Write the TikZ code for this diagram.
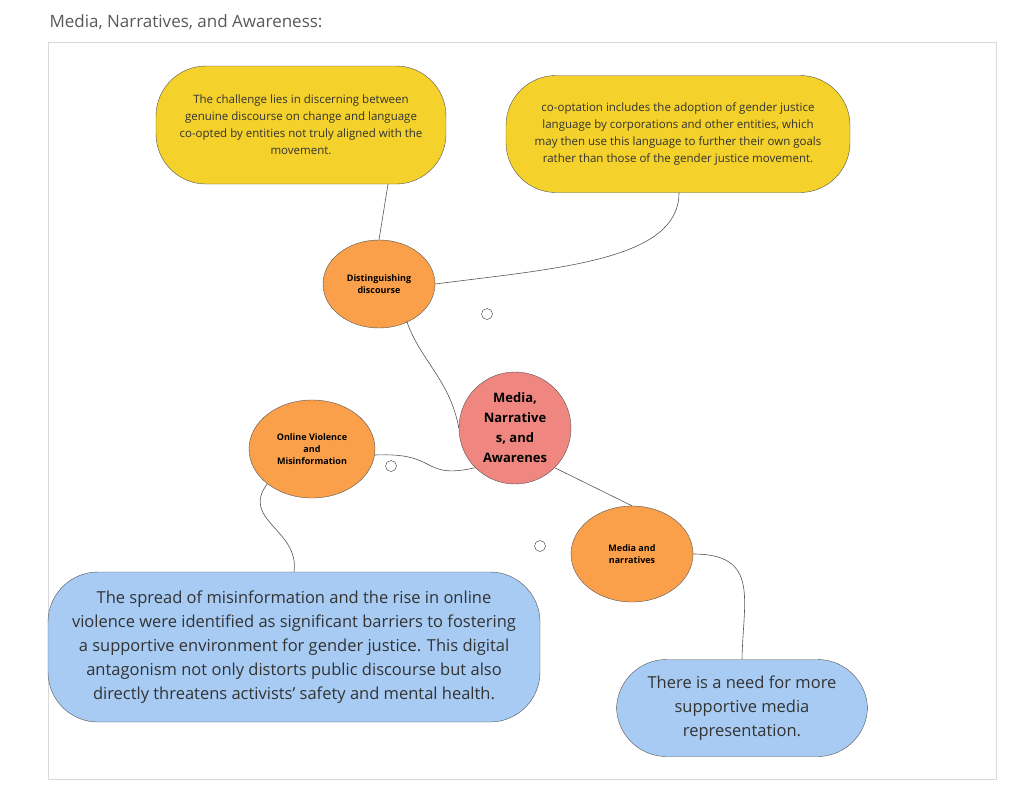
\documentclass[tikz,border=0pt]{standalone}
\usepackage{fontspec}
\setmainfont{Open Sans}
\usetikzlibrary{shapes.geometric}
\definecolor{yel}{HTML}{F4D12B}
\definecolor{org}{HTML}{FBA04A}
\definecolor{red1}{HTML}{EF8680}
\definecolor{blu}{HTML}{A7CBF3}
\definecolor{edge}{HTML}{555555}
\tikzset{
 pill/.style={draw=edge,rounded corners=50pt,inner sep=0pt,align=center,text=black!80},
 ell/.style={draw=edge,ellipse,fill=org,inner sep=0pt,align=center,font=\fontsize{9}{12}\selectfont\bfseries},
 conn/.style={draw=edge,line width=0.6pt},
 dot/.style={draw=black!80,circle,minimum size=11pt,inner sep=0pt,fill=white}
}
\begin{document}
\begin{tikzpicture}[x=1pt,y=-1pt]
\useasboundingbox (0,0) rectangle (1024,801);
\node[anchor=west,text=black!65,font=\fontsize{17}{20}\selectfont] (title) at (46,22) {Media, Narratives, and Awareness:};
\draw[black!15] (48,42) rectangle (996,779);
\node[pill,fill=yel,minimum width=290pt,minimum height=118pt,font=\fontsize{11.5}{17}\selectfont] (y1) at (301,125) {The challenge lies in discerning between\\genuine discourse on change and language\\co-opted by entities not truly aligned with the\\movement.};
\node[pill,fill=yel,minimum width=344pt,minimum height=117pt,font=\fontsize{11.5}{17}\selectfont] (y2) at (678,134) {co-optation includes the adoption of gender justice\\language by corporations and other entities, which\\may then use this language to further their own goals\\rather than those of the gender justice movement.};
\node[ell,minimum width=112pt,minimum height=88pt] (dd) at (379,284) {Distinguishing\\discourse};
\node[draw=edge,circle,fill=red1,minimum size=112pt,inner sep=0pt,align=center,font=\fontsize{13}{20}\selectfont\bfseries] (c) at (515,428) {Media,\\Narrative\\s, and\\Awarenes};
\node[ell,minimum width=126pt,minimum height=98pt] (ov) at (312,449) {Online Violence\\and\\Misinformation};
\node[ell,minimum width=122pt,minimum height=96pt] (mn) at (632,554) {Media and\\narratives};
\node[pill,fill=blu,minimum width=492pt,minimum height=150pt,font=\fontsize{16.5}{24}\selectfont] (b1) at (294,647) {The spread of misinformation and the rise in online\\violence were identified as significant barriers to fostering\\a supportive environment for gender justice. This digital\\antagonism not only distorts public discourse but also\\directly threatens activists' safety and mental health.};
\node[pill,fill=blu,minimum width=251pt,minimum height=97pt,font=\fontsize{16.5}{24}\selectfont] (b2) at (742,708) {There is a need for more\\supportive media\\representation.};
\node[dot] (d1) at (487,314) {};
\node[dot] (d2) at (391,466) {};
\node[dot] (d3) at (540,546) {};
\draw[conn] (y1.south) ++(87,0) coordinate (a1) (a1) -- (dd.north);
\draw[conn] (y2.south) ++(1,0) .. controls (679,260) and (560,268) .. (dd.east);
\draw[conn] (dd.south east) ++(-12,6) coordinate (a2) (a2) .. controls (420,360) and (450,380) .. (c.west) ++(0,0);
\draw[conn] (ov.east) ++(0,6) coordinate (a3) (a3) .. controls (440,452) and (420,480) .. (c.south west);
\draw[conn] (c.south east) -- (mn.north);
\draw[conn] (ov.south west) ++(0,0) .. controls (240,520) and (300,530) .. (b1.north);
\draw[conn] (mn.east) .. controls (760,554) and (743,600) .. (b2.north);
\end{tikzpicture}
\end{document}
